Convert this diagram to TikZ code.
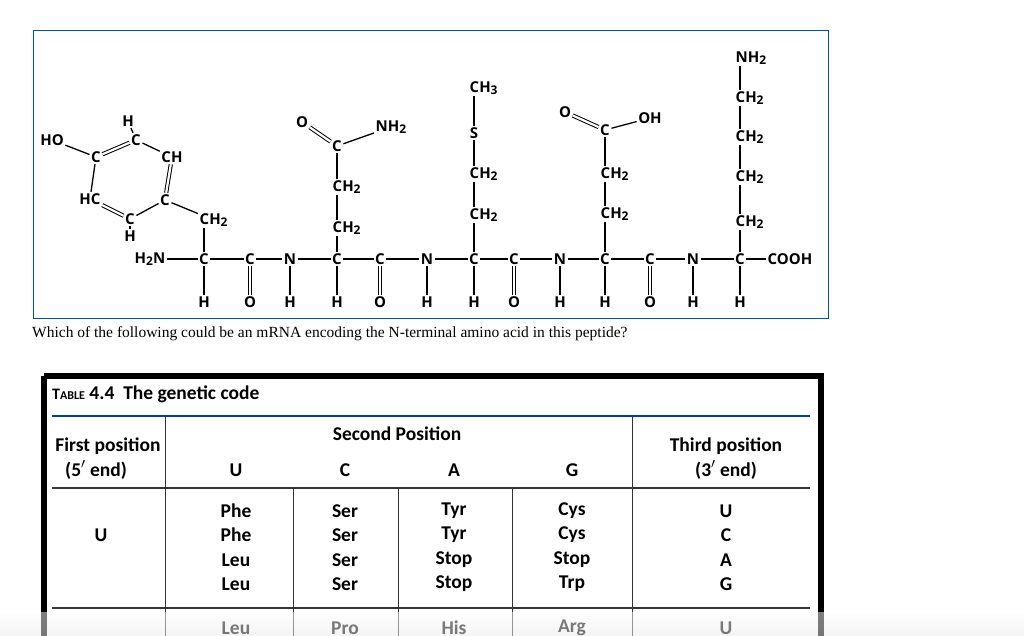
\documentclass[tikz,border=0pt]{standalone}
\usepackage{fontspec}
\setmainfont{Liberation Serif}
\newfontfamily\chem{Open Sans}
\newfontfamily\tab{Carlito}
\newcommand\chsub[1]{\raisebox{-0.3ex}{\fontsize{12}{12}\selectfont #1}}
\begin{document}
\begin{tikzpicture}[x=1pt,y=-1pt,
  atm/.style={font=\chem\bfseries\fontsize{15}{15}\selectfont,inner sep=1.5pt},
  ch/.style={atm,anchor=west,xshift=-6pt},
  tb/.style={font=\tab\bfseries\fontsize{19.5}{19.5}\selectfont,inner sep=0pt},
  bd/.style={line width=1.3pt},
  dbd/.style={double,double distance=2.2pt,line width=1pt},
  grid/.style={line width=0.8pt,black!80}]
\useasboundingbox (0,0) rectangle (1024,635);
\fill[white] (0,0) rectangle (1024,635);
\draw[line width=1pt,blue!55!cyan!70!black] (33,30) rectangle (828,318);
% backbone
\node[atm] (n0) at (150,259) {H\chsub{2}N};
\node[atm] (ca1) at (204,259) {C};
\node[atm] (c1) at (250,259) {C};
\node[atm] (n1) at (290,259) {N};
\node[atm] (ca2) at (337,259) {C};
\node[atm] (c2) at (380,259) {C};
\node[atm] (n2) at (427,259) {N};
\node[atm] (ca3) at (474,259) {C};
\node[atm] (c3) at (514,259) {C};
\node[atm] (n3) at (560,259) {N};
\node[atm] (ca4) at (605,259) {C};
\node[atm] (c4) at (650,259) {C};
\node[atm] (n4) at (693,259) {N};
\node[atm] (ca5) at (740,259) {C};
\node[atm] (cooh) at (790,259) {COOH};
\foreach \a/\b in {n0/ca1,ca1/c1,c1/n1,n1/ca2,ca2/c2,c2/n2,n2/ca3,ca3/c3,c3/n3,n3/ca4,ca4/c4,c4/n4,n4/ca5,ca5/cooh}
  \draw[bd] (\a) -- (\b);
\foreach \x/\t/\n in {204/H/h1,250/O/o1,290/H/h2,337/H/h3,380/O/o2,427/H/h4,474/H/h5,514/O/o3,560/H/h6,605/H/h7,650/O/o4,693/H/h8,740/H/h9}
  \node[atm] (\n) at (\x,302) {\t};
\foreach \a/\b in {ca1/h1,n1/h2,ca2/h3,n2/h4,ca3/h5,n3/h6,ca4/h7,n4/h8,ca5/h9}
  \draw[bd] (\a) -- (\b);
\foreach \a/\b in {c1/o1,c2/o2,c3/o3,c4/o4}
  \draw[dbd] (\a) -- (\b);
% Tyr
\node[ch] (ty1) at (204,220) {CH\chsub{2}};
\node[atm] (r1) at (165,200) {C};
\node[atm] (r2) at (172,157) {CH};
\node[atm] (r3) at (136,140) {C};
\node[atm] (r3h) at (128,121) {H};
\node[atm] (r4) at (96,157) {C};
\node[atm] (r5) at (90,199) {HC};
\node[atm] (r6) at (130,219) {C};
\node[atm] (r6h) at (130,236) {H};
\node[atm] (ho) at (52,140) {HO};
\draw[bd] (ca1.north) -- (ca1.north |- ty1.south);
\draw[bd] (ty1) -- (r1);
\draw[dbd] (r1) -- (r2);
\draw[bd] (r2) -- (r3);
\draw[dbd] (r3) -- (r4);
\draw[bd] (r4) -- (r5);
\draw[dbd] (r5) -- (r6);
\draw[bd] (r6) -- (r1);
\draw[bd] (r4) -- (ho);
\draw[bd] (r3) -- (r3h);
\draw[bd] (r6) -- (r6h);
% Gln
\node[ch] (q1) at (337,228) {CH\chsub{2}};
\node[ch] (q2) at (337,187) {CH\chsub{2}};
\node[atm] (q3) at (337,146) {C};
\node[atm] (qo) at (302,122) {O};
\node[atm] (qn) at (391,127) {NH\chsub{2}};
\draw[bd] (ca2.north) -- (ca2.north |- q1.south);
\draw[bd] (ca2 |- q1.north) -- (ca2 |- q2.south);
\draw[bd] (ca2 |- q2.north) -- (q3);
\draw[dbd] (q3) -- (qo); \draw[bd] (q3) -- (qn);
% Met
\node[ch] (m1) at (474,215) {CH\chsub{2}};
\node[ch] (m2) at (474,174) {CH\chsub{2}};
\node[atm] (ms) at (474,133) {S};
\node[ch] (m3) at (474,88) {CH\chsub{3}};
\draw[bd] (ca3.north) -- (ca3.north |- m1.south);
\draw[bd] (ca3 |- m1.north) -- (ca3 |- m2.south);
\draw[bd] (ca3 |- m2.north) -- (ms);
\draw[bd] (ms) -- (ca3 |- m3.south);
% Glu
\node[ch] (e1) at (605,214) {CH\chsub{2}};
\node[ch] (e2) at (605,174) {CH\chsub{2}};
\node[atm] (e3) at (605,130) {C};
\node[atm] (eo) at (565,112) {O};
\node[atm] (eoh) at (650,118) {OH};
\draw[bd] (ca4.north) -- (ca4.north |- e1.south);
\draw[bd] (ca4 |- e1.north) -- (ca4 |- e2.south);
\draw[bd] (ca4 |- e2.north) -- (e3);
\draw[dbd] (e3) -- (eo); \draw[bd] (e3) -- (eoh);
% Lys
\node[ch] (k1) at (740,222) {CH\chsub{2}};
\node[ch] (k2) at (740,177) {CH\chsub{2}};
\node[ch] (k3) at (740,137) {CH\chsub{2}};
\node[ch] (k4) at (740,98) {CH\chsub{2}};
\node[ch] (kn) at (740,58) {NH\chsub{2}};
\draw[bd] (ca5.north) -- (ca5.north |- k1.south);
\draw[bd] (ca5 |- k1.north) -- (ca5 |- k2.south);
\draw[bd] (ca5 |- k2.north) -- (ca5 |- k3.south);
\draw[bd] (ca5 |- k3.north) -- (ca5 |- k4.south);
\draw[bd] (ca5 |- k4.north) -- (ca5 |- kn.south);
% question
\node[anchor=west,font=\fontsize{15.5}{15.5}\selectfont,inner sep=0pt] (q) at (32,334) {Which of the following could be an mRNA encoding the N-terminal amino acid in this peptide?};
% table
\draw[line width=6pt] (44,376) -- (821,376) -- (821,640) (44,376) -- (44,640);
\node[tb,anchor=west] (title) at (52,394) {{\fontsize{16}{16}\selectfont T\fontsize{12}{12}\selectfont ABLE} 4.4\ \ The genetic code};
\draw[line width=1.2pt,blue!60!cyan!60!black] (52,416) -- (810,416);
\node[tb] (fp1) at (108,446) {First position};
\node[tb] (fp2) at (96,470) {(5$'$ end)};
\node[tb] (sp) at (397,434) {Second Position};
\node[tb] (tp1) at (726,446) {Third position};
\node[tb] (tp2) at (726,470) {(3$'$ end)};
\foreach \x/\t in {236/U,345/C,454/A,572/G} \node[tb] at (\x,470) {\t};
\draw[grid] (165,416) -- (165,640);
\draw[grid] (632,416) -- (632,640);
\foreach \x in {293,398,512} \draw[grid] (\x,488) -- (\x,640);
\draw[grid,line width=1.2pt] (52,488) -- (810,488);
\draw[grid,line width=1.2pt] (52,608) -- (810,608);
\node[tb] (u1) at (101,535) {U};
\foreach \y/\a/\b/\c/\d/\e in {511/Phe/Ser/Tyr/Cys/U,535/Phe/Ser/Tyr/Cys/C,560/Leu/Ser/Stop/Stop/A,584/Leu/Ser/Stop/Trp/G,628/Leu/Pro/His/Arg/U}{
  \node[tb] at (236,\y) {\a};
  \node[tb] at (345,\y) {\b};
  \node[tb] at (454,\y) {\c};
  \node[tb] at (572,\y) {\d};
  \node[tb] at (726,\y) {\e};
}
\shade[top color=white,bottom color=black!8,opacity=0.5] (0,612) rectangle (1024,635);
\end{tikzpicture}
\end{document}
